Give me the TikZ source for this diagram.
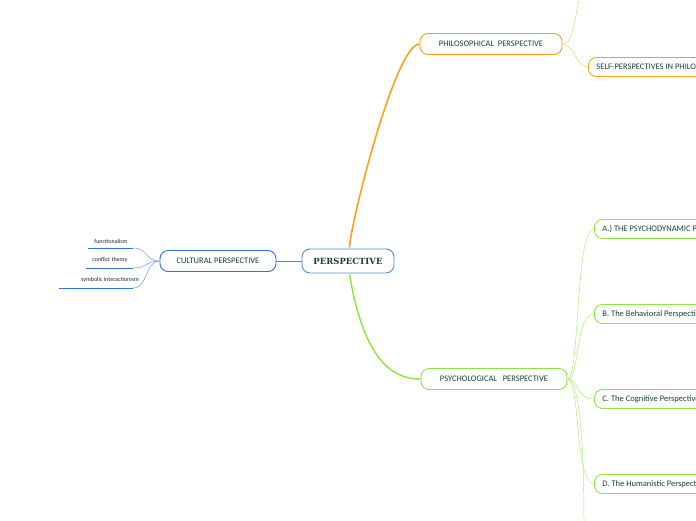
\documentclass[tikz,border=0pt]{standalone}
\usepackage{fontspec}
\setmainfont{Carlito}
\newfontfamily\rootfont{DejaVu Serif}
\usetikzlibrary{positioning}
\definecolor{txtgreen}{HTML}{17423A}
\definecolor{orangeline}{HTML}{F7A21B}
\definecolor{greenline}{HTML}{8CE63C}
\definecolor{blueline}{HTML}{2F6FE8}
\definecolor{rootline}{HTML}{4A8FD6}
\tikzset{
  topic/.style={draw, rounded corners=8pt, line width=0.9pt, minimum height=21pt, inner xsep=10pt, text=txtgreen, font=\fontsize{8.5}{9}\selectfont},
  subtopic/.style={topic, minimum height=19pt, anchor=west, align=left, inner xsep=8pt},
  leaf/.style={text=txtgreen!70!black, font=\fontsize{6}{7}\selectfont, inner sep=1pt},
}
\begin{document}
\begin{tikzpicture}[x=1pt,y=-1pt]
  \useasboundingbox (0,0) rectangle (696,520);
  \clip (0,0) rectangle (696,520);
  % central topic
  \node[topic, draw=rootline, minimum width=92pt, minimum height=24pt, font=\rootfont\bfseries\fontsize{8.5}{10}\selectfont] (root) at (348,261) {PERSPECTIVE};
  % main topics
  \node[topic, draw=blueline, minimum width=116pt] (cult) at (218,261) {CULTURAL PERSPECTIVE};
  \node[topic, draw=orangeline, minimum width=142pt] (phil) at (491,44) {PHILOSOPHICAL\ \ PERSPECTIVE};
  \node[topic, draw=greenline, minimum width=146pt] (psych) at (494,379) {PSYCHOLOGICAL\ \ \ PERSPECTIVE};
  % philosophical subtopics
  \node[subtopic, draw=orangeline] (self) at (588,67) {SELF-PERSPECTIVES IN PHILOSOPHY};
  \coordinate (philup) at (580,-2);
  % psychological subtopics
  \node[subtopic, draw=greenline] (psa) at (594,229) {A.) THE PSYCHODYNAMIC PERSPECTIVE};
  \node[subtopic, draw=greenline] (psb) at (594,314) {B. The Behavioral Perspective};
  \node[subtopic, draw=greenline] (psc) at (594,399) {C. The Cognitive Perspective};
  \node[subtopic, draw=greenline] (psd) at (594,484) {D. The Humanistic Perspective};
  \coordinate (psdown) at (584,522);
  % cultural leaves
  \node[leaf] (fun) at (111,241) {functionalism};
  \node[leaf] (con) at (110,260) {conflict theory};
  \node[leaf] (sym) at (110,280) {symbolic interactionism};
  \draw[blueline, line width=1pt] (88,248) -- (133,248) coordinate (funend);
  \draw[blueline, line width=1pt] (86,268) -- (133,268) coordinate (conend);
  \draw[blueline, line width=1pt] (59,288) -- (133,288) coordinate (symend);
  % connectors
  \draw[rootline, line width=1pt] (root.west) -- (cult.east);
  \draw[orangeline, line width=1.6pt] (root.north west) ++(48,-1) .. controls +(0,-20) and (395,44) .. (phil.west);
  \draw[greenline, line width=1.4pt] (root.south west) ++(48,1) .. controls +(15,90) and (395,379) .. (psych.west);
  \foreach \t in {funend, conend, symend}
    \draw[blueline!70, line width=0.5pt] (cult.west) .. controls (145,261) and (148,0|-\t) .. (\t);
  \draw[orangeline!60, line width=0.5pt] (phil.east) .. controls (575,44) and (575,67) .. (self.west);
  \draw[orangeline!60, line width=0.5pt] (phil.east) .. controls (575,44) and (575,10) .. (philup);
  \foreach \t in {psa, psb, psc, psd}
    \draw[greenline!70, line width=0.5pt] (psych.east) .. controls (580,379) and (575,0|-\t.west) .. (\t.west);
  \draw[greenline!70, line width=0.5pt] (psych.east) .. controls (580,379) and (584,450) .. (psdown);
\end{tikzpicture}
\end{document}
